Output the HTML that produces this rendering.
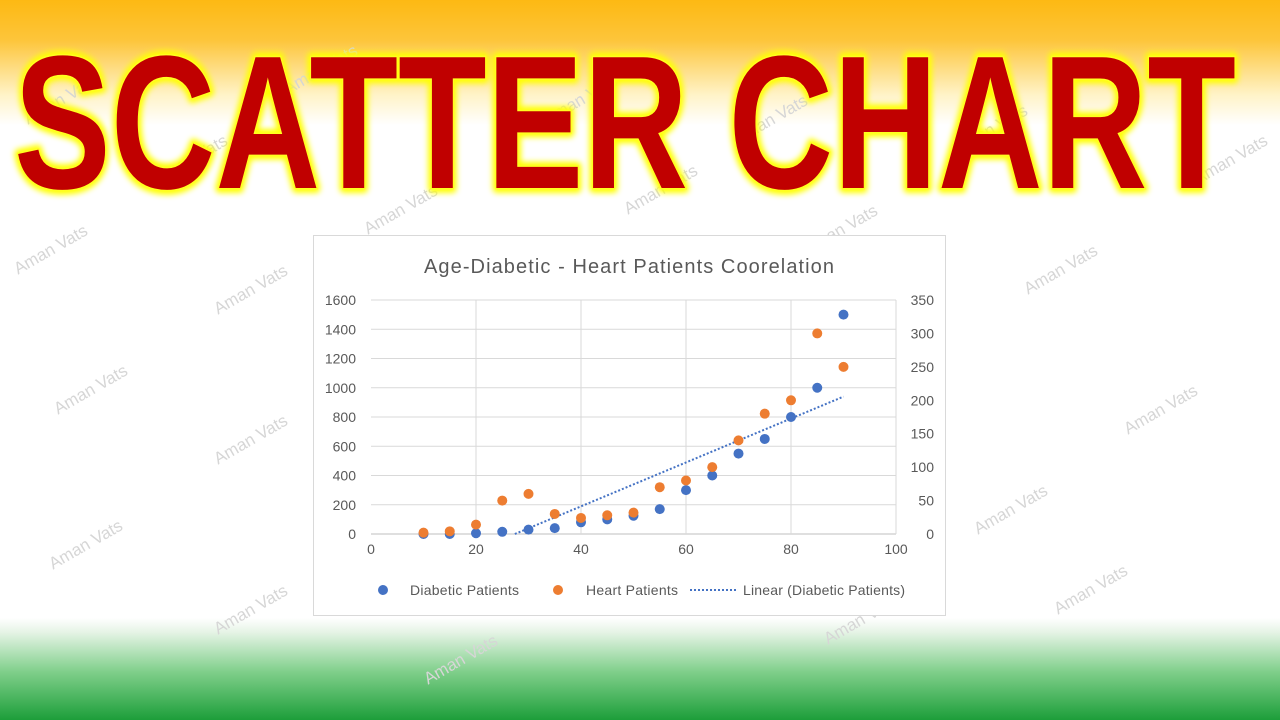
<!DOCTYPE html>
<html><head><meta charset="utf-8"><style>
html,body{margin:0;padding:0;width:1280px;height:720px;overflow:hidden;font-family:"Liberation Sans",sans-serif;}
#bg{position:absolute;left:0;top:0;width:1280px;height:720px;background:linear-gradient(to bottom,#fdb913 0px,#fdc53a 40px,#fff3c8 95px,#ffffff 125px,#ffffff 618px,#e6f4e6 632px,#7fcf8a 672px,#1d9e3a 720px);}
.wm{position:absolute;color:#d6d6d6;font-size:17px;transform:rotate(-30deg);white-space:nowrap;}
</style></head><body>
<div id="bg"></div>
<div id="wms"></div>
<svg width="1280" height="720" style="position:absolute;left:0;top:0">
<defs><filter id="glow" x="-5%" y="-20%" width="110%" height="140%"><feGaussianBlur stdDeviation="3"/></filter></defs>
<g>
<text x="14" y="188" textLength="1222" lengthAdjust="spacingAndGlyphs" font-size="190" font-weight="bold" font-family="Liberation Sans,sans-serif" fill="#ffff00" stroke="#ffff00" stroke-width="10" stroke-linejoin="round" filter="url(#glow)">SCATTER CHART</text>
<text x="14" y="188" textLength="1222" lengthAdjust="spacingAndGlyphs" font-size="190" font-weight="bold" font-family="Liberation Sans,sans-serif" fill="#c00000" stroke="#ffff20" stroke-width="3" paint-order="stroke">SCATTER CHART</text>
</g>
<rect x="313.5" y="235.5" width="632" height="380" fill="#fff" stroke="#d9d9d9"/>
<text x="629" y="273" text-anchor="middle" font-size="20" textLength="410" fill="#595959">Age-Diabetic - Heart Patients Coorelation</text>
<g id="plot"></g>
<g font-size="14" fill="#595959">
<circle cx="383" cy="590" r="5" fill="#4472c4"/>
<text x="410" y="595" textLength="109">Diabetic Patients</text>
<circle cx="558" cy="590" r="5" fill="#ed7d31"/>
<text x="586" y="595" textLength="92">Heart Patients</text>
<line x1="690" y1="590" x2="736" y2="590" stroke="#4472c4" stroke-width="2" stroke-dasharray="2,2"/>
<text x="743" y="595" textLength="162">Linear (Diabetic Patients)</text>
</g>
</svg>
<script>
const ages=[10,15,20,25,30,35,40,45,50,55,60,65,70,75,80,85,90];
const diabetic=[0,0,5,15,30,40,80,100,125,170,300,400,550,650,800,1000,1500];
const heart=[2,4,14,50,60,30,24,28,32,70,80,100,140,180,200,300,250];
const xTicks=[0,20,40,60,80,100];
const yTicks=[0,200,400,600,800,1000,1200,1400,1600];
const y2Ticks=[0,50,100,150,200,250,300,350];
const NS="http://www.w3.org/2000/svg";
const L=371,R=896,T=300,B=534;
const sx=v=>L+(v-0)/100*(R-L);
const sy=v=>B-v/1600*(B-T);
const sy2=v=>B-v/350*(B-T);
const g=document.getElementById('plot');
function mk(tag,attrs){const e=document.createElementNS(NS,tag);for(const k in attrs)e.setAttribute(k,attrs[k]);g.appendChild(e);return e;}
yTicks.forEach(v=>{
 const l=mk('line',{x1:L,x2:R,y1:sy(v),y2:sy(v),stroke:v===0?'#bfbfbf':'#d9d9d9'});
 
 
 const t=mk('text',{x:L-15,y:sy(v)+5,'text-anchor':'end','font-size':14,fill:'#595959'});t.textContent=v;
 
 
});
xTicks.forEach(v=>{
 if(v>0){const l=mk('line',{x1:sx(v),x2:sx(v),y1:T,y2:B,stroke:'#d9d9d9'});
 
 }
 const t=mk('text',{x:sx(v),y:B+20,'text-anchor':'middle','font-size':14,fill:'#595959'});t.textContent=v;
 
 
});
y2Ticks.forEach(v=>{
 const t=mk('text',{x:R+38,y:sy2(v)+5,'text-anchor':'end','font-size':14,fill:'#595959'});t.textContent=v;
 
 
});
const n=ages.length;let mx=0,my=0;ages.forEach((a,i)=>{mx+=a;my+=diabetic[i];});mx/=n;my/=n;
let sxy=0,sxx=0;ages.forEach((a,i)=>{sxy+=(a-mx)*(diabetic[i]-my);sxx+=(a-mx)*(a-mx);});
const slope=sxy/sxx,icpt=my-slope*mx;
const x0=Math.max(ages[0],-icpt/slope),x1=ages[n-1];
const tl=mk('line',{x1:sx(x0),y1:sy(slope*x0+icpt),x2:sx(x1),y2:sy(slope*x1+icpt),stroke:'#4472c4','stroke-width':2,'stroke-dasharray':'2,2'});


ages.forEach((a,i)=>{
 const c=mk('circle',{cx:sx(a),cy:sy(diabetic[i]),r:5,fill:'#4472c4'});
 
 
});
ages.forEach((a,i)=>{
 const c=mk('circle',{cx:sx(a),cy:sy2(heart[i]),r:5,fill:'#ed7d31'});
 
 
});
const wmPos=[[20,90],[150,150],[280,60],[540,90],[730,110],[950,120],[1190,150],[360,200],[620,180],[800,220],[10,240],[210,280],[1020,260],[50,380],[210,430],[1120,400],[970,500],[45,535],[210,600],[1050,580],[420,650],[820,610]];
const wd=document.getElementById('wms');
wmPos.forEach(p=>{const d=document.createElement('div');d.className='wm';d.style.left=p[0]+'px';d.style.top=p[1]+'px';d.textContent='Aman Vats';
 
 
 wd.appendChild(d);});
</script>
</body></html>
